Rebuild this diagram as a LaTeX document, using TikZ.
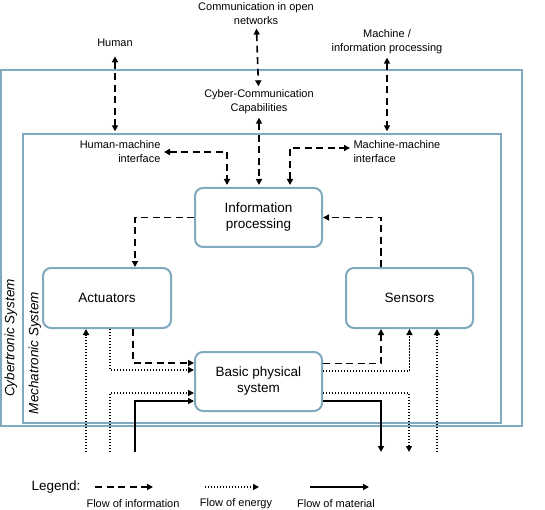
\documentclass[tikz,border=0pt]{standalone}
\usepackage{fontspec}
\setmainfont{Liberation Sans}
\usetikzlibrary{arrows.meta, positioning, calc}
\definecolor{FrameBlue}{HTML}{7FA9BE}

\begin{document}
\begin{tikzpicture}[x=1pt, y=-1pt,
    >={Triangle[length=6pt, width=6pt]},
    block/.style={rectangle, rounded corners=8pt, draw=FrameBlue, line width=2pt,
                  minimum width=127pt, minimum height=59pt, align=center,
                  font=\fontsize{13.5}{16}\selectfont},
    frame/.style={rectangle, draw=FrameBlue, line width=1.4pt, inner sep=0pt},
    lbl/.style={align=center, font=\fontsize{11}{14}\selectfont},
    sidelbl/.style={rotate=90, font=\fontsize{13.5}{16}\selectfont\itshape},
    infoflow/.style={line width=1.6pt, dash pattern=on 7pt off 4.5pt},
    energyflow/.style={line width=1.4pt, dash pattern=on 1.4pt off 1.6pt},
    materialflow/.style={line width=1.8pt}]
    \useasboundingbox (0,0) rectangle (545,510);

    % System frames
    \node[frame, minimum width=521pt, minimum height=356pt] (cyber) at (261.5,248) {};
    \node[frame, minimum width=478pt, minimum height=289pt] (mech) at (262,278.5) {};
    \node[sidelbl] (cyberlbl) at (11,338) {Cybertronic System};
    \node[sidelbl] (mechlbl) at (35,353) {Mechatronic System};

    % Outside partners and interfaces
    \node[lbl] (human) at (115,43) {Human};
    \node[lbl] (opennet) at (256,14) {Communication in open\\networks};
    \node[lbl] (machine) at (387,42) {Machine /\\information processing};
    \node[lbl] (cybercom) at (259,102) {Cyber-Communication\\Capabilities};
    \node[lbl, align=right, anchor=east] (hmi) at (164,152) {Human-machine\\interface};
    \node[lbl, align=left, anchor=west] (mmi) at (350,152) {Machine-machine\\interface};

    % Blocks
    \node[block] (info) at (258.5,217.5) {Information\\processing};
    \node[block, minimum width=128pt, minimum height=60pt] (act) at (107,298) {Actuators};
    \node[block, minimum height=60pt] (sens) at (409.5,298) {Sensors};
    \node[block] (bps) at (258.5,381.5) {Basic physical\\system};

    % Free ends below the frames
    \coordinate (in1) at (86,452);
    \coordinate (in2) at (110,452);
    \coordinate (in3) at (135,452);
    \coordinate (out1) at (381,452);
    \coordinate (out2) at (409,452);
    \coordinate (in4) at (437,452);

    % Information flows at the top
    \draw[infoflow, <->, shorten <=6pt, shorten >=2pt] (human) -- (human |- mech.north);
    \draw[infoflow, <->] (opennet) -- (cybercom);
    \draw[infoflow, <->, shorten >=2pt] (cybercom.south) -- (cybercom.south |- info.north);
    \draw[infoflow, <->, shorten >=2pt] (machine) -- (machine |- mech.north);
    \draw[infoflow, <->, shorten >=2pt] (hmi.east) -| ([xshift=-31.5pt]info.north);
    \draw[infoflow, <->, shorten <=2pt] ([xshift=31.5pt]info.north) |- ([yshift=4pt]mmi.west);

    % Information loop
    \draw[infoflow, ->] (info.west) -| ([xshift=28pt]act.north);
    \draw[infoflow, ->] ([xshift=-28.5pt]sens.north) |- (info.east);

    % Flows through the basic physical system
    \draw[infoflow, ->] ([xshift=26pt]act.south) |- ([yshift=18.5pt]bps.west);
    \draw[energyflow, ->] ([xshift=3pt]act.south) |- ([yshift=11.5pt]bps.west);
    \draw[energyflow, ->] (in1) -- (in1 |- act.south);
    \draw[energyflow, ->] (in2) |- ([yshift=-11.5pt]bps.west);
    \draw[materialflow, ->] (in3) |- ([yshift=-19.5pt]bps.west);
    \draw[infoflow, ->] ([yshift=18pt]bps.east) -| ([xshift=-28.5pt]sens.south);
    \draw[energyflow, ->] ([yshift=10.5pt]bps.east) -| (sens.south);
    \draw[energyflow, ->] ([yshift=-11.5pt]bps.east) -| (out2);
    \draw[materialflow, ->] ([yshift=-19.5pt]bps.east) -| (out1);
    \draw[energyflow, ->] (in4) -- (in4 |- sens.south);

    % Legend
    \node[font=\fontsize{13.5}{16}\selectfont] (legend) at (56,487) {Legend:};
    \coordinate (linfoA) at (95,487);
    \coordinate (linfoB) at (153,487);
    \coordinate (lenergyA) at (205,487);
    \coordinate (lenergyB) at (259,487);
    \coordinate (lmatA) at (310,487);
    \coordinate (lmatB) at (369,487);
    \draw[infoflow, ->] (linfoA) -- (linfoB);
    \draw[energyflow, ->] (lenergyA) -- (lenergyB);
    \draw[materialflow, ->] (lmatA) -- (lmatB);
    \node[lbl] (linfo) at (133,504) {Flow of information};
    \node[lbl] (lenergy) at (236,504) {Flow of energy};
    \node[lbl] (lmat) at (336,504) {Flow of material};
\end{tikzpicture}
\end{document}
